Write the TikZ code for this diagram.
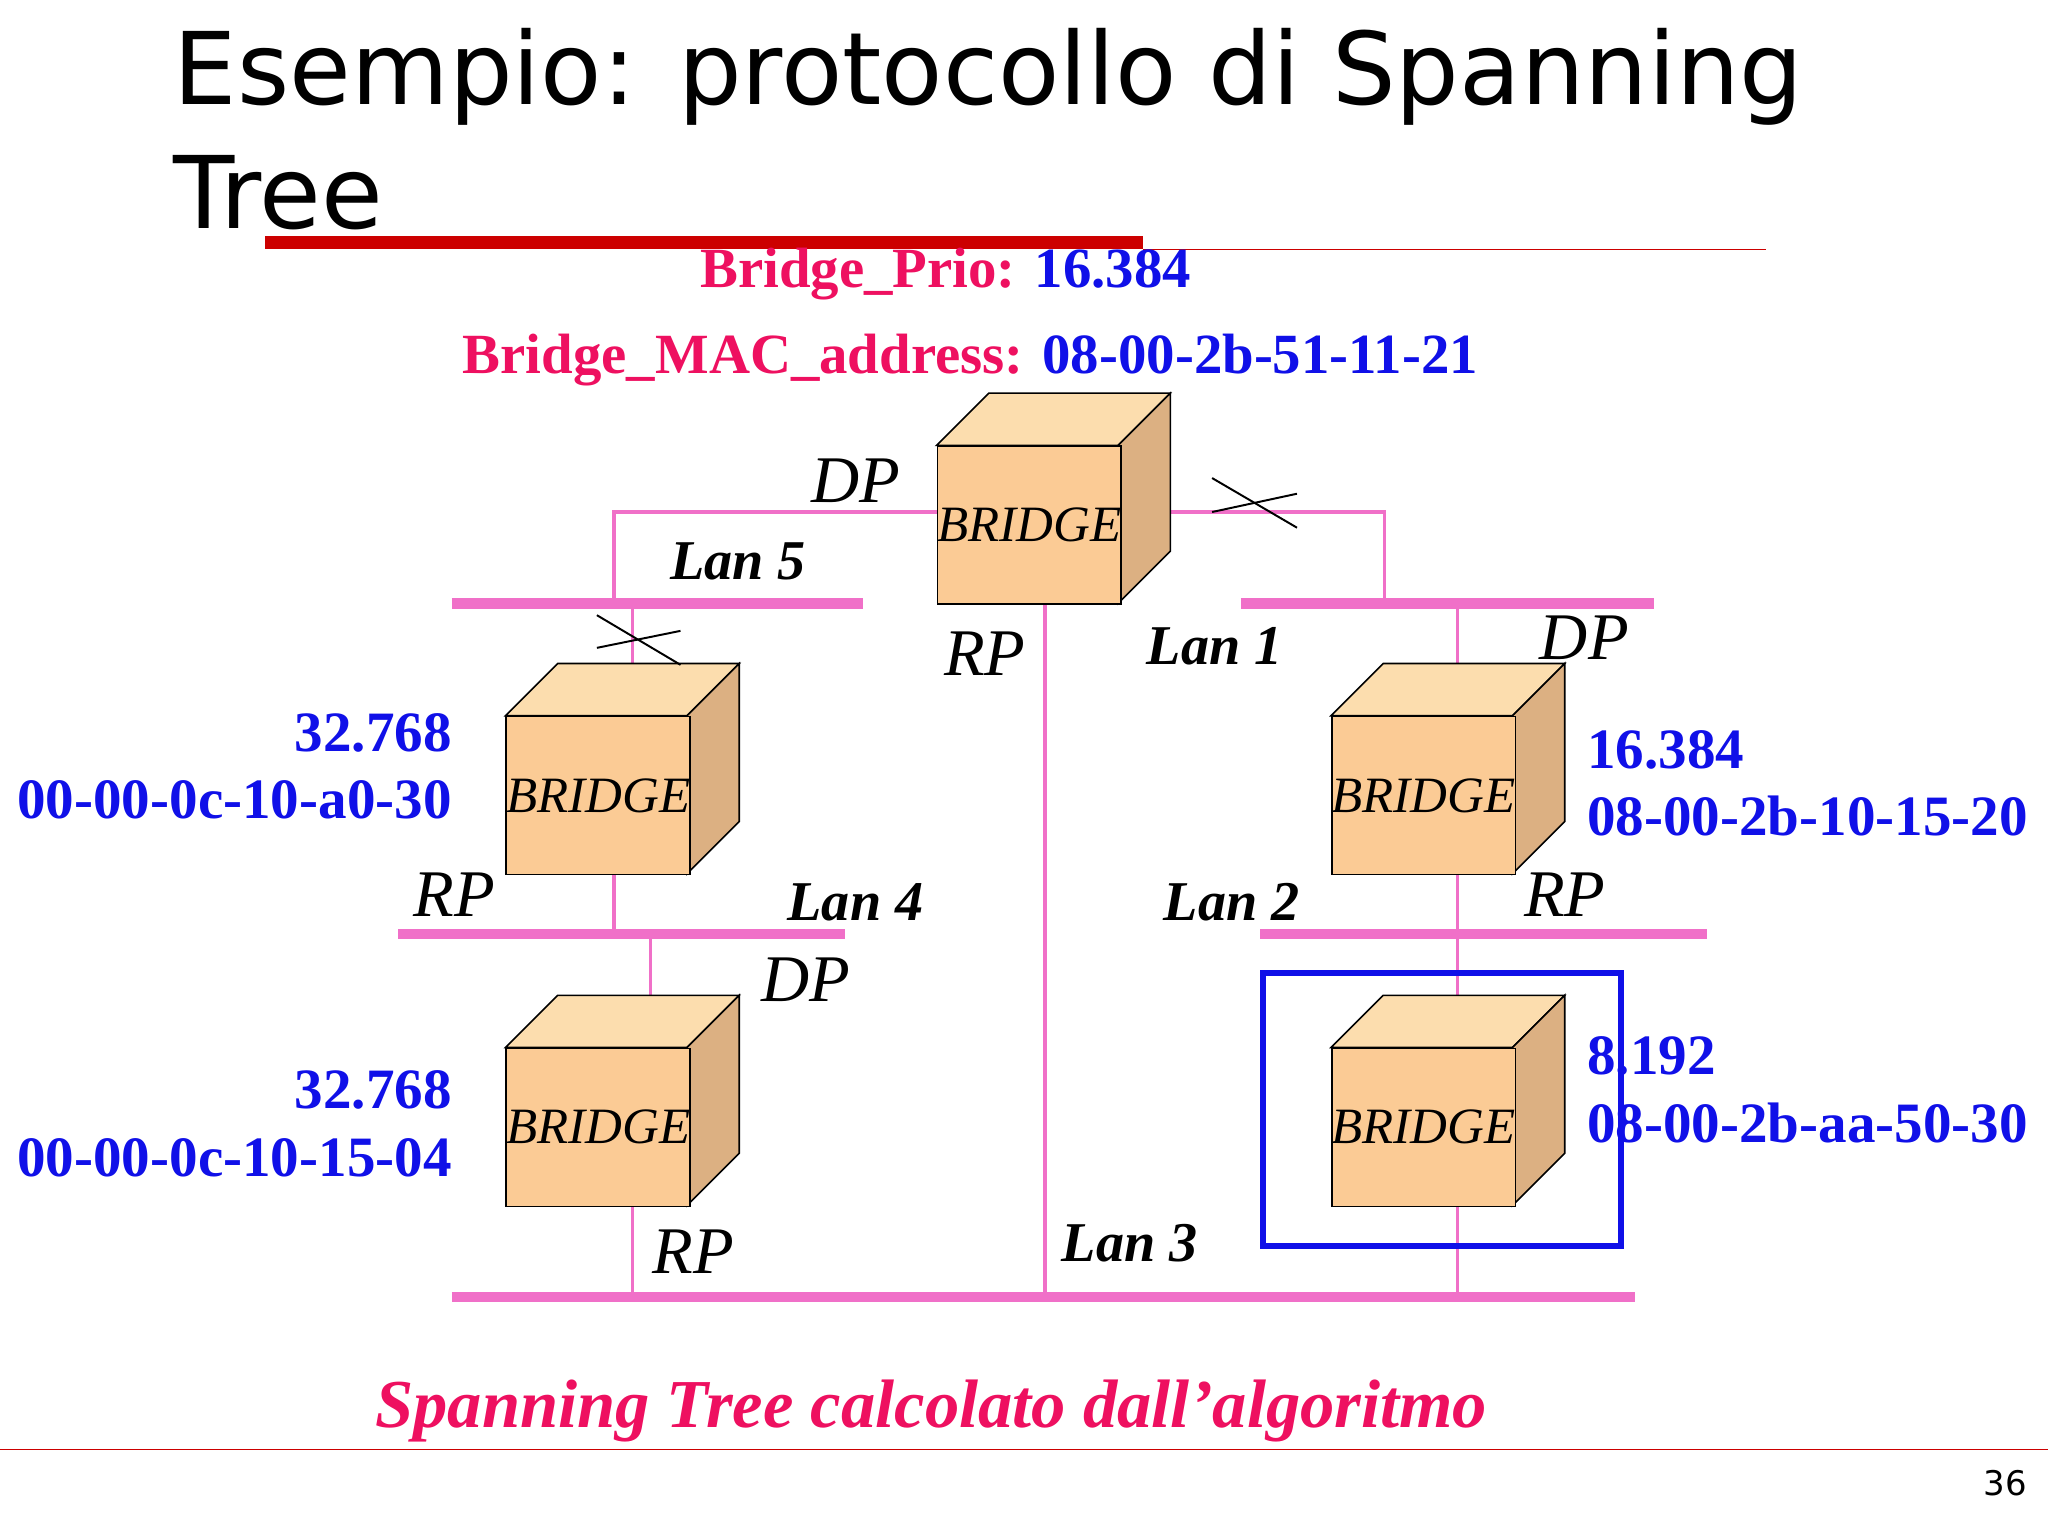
\documentclass[tikz,border=0pt]{standalone}
\usepackage{fontspec}
\setmainfont{Liberation Serif}
\newfontfamily\titlefont{DejaVu Sans}
\definecolor{lanpink}{HTML}{F070C8}
\definecolor{mag}{HTML}{EE1060}
\definecolor{bblue}{HTML}{1010E8}
\definecolor{frontc}{HTML}{FBCB95}
\definecolor{topc}{HTML}{FCDDAE}
\definecolor{sidec}{HTML}{DCB082}
\begin{document}
\begin{tikzpicture}[x=1pt,y=-1pt,
  lan/.style={lanpink,line width=8pt},
  wire/.style={lanpink,line width=2.5pt},
  xmark/.style={black,line width=1.5pt},
  brfront/.style={draw=black,fill=frontc,line width=1.2pt,minimum width=139pt,minimum height=121pt,inner sep=0pt,anchor=north west,font=\fontsize{39}{42}\selectfont\itshape},
  port/.style={font=\fontsize{51}{55}\selectfont\itshape,anchor=base,inner sep=0pt},
  lanlbl/.style={font=\fontsize{43}{46}\selectfont\bfseries\itshape,anchor=base,inner sep=0pt},
  addr/.style={font=\fontsize{43.7}{46}\selectfont\bfseries,text=bblue,inner sep=0pt}]
\useasboundingbox (0,0) rectangle (1568,1176);
\fill[white] (0,0) rectangle (1568,1176);
% title
\node[anchor=base west,inner sep=0pt,font=\fontsize{76.8}{80}\titlefont] (t1) at (133,80) {Esempio: protocollo di Spanning};
\node[anchor=base west,inner sep=0pt,font=\fontsize{76.8}{80}\titlefont] (t2) at (133,175) {Tree};
\fill[red!80!black] (203,181) rectangle (875,191);
\draw[red!80!black,line width=1.2pt] (875,191) -- (1352,191);
\draw[red!80!black,line width=0.8pt] (0,1110) -- (1568,1110);
\node[anchor=base east,inner sep=0pt,font=\fontsize{26}{28}\titlefont] (pg) at (1552,1145) {36};
\node[anchor=base,inner sep=0pt,font=\fontsize{43.5}{46}\selectfont\bfseries] (bp) at (724,220) {\textcolor{mag}{Bridge\_Prio:} \textcolor{bblue}{16.384}};
\node[anchor=base,inner sep=0pt,font=\fontsize{43.5}{46}\selectfont\bfseries] (bm) at (743,286) {\textcolor{mag}{Bridge\_MAC\_address:} \textcolor{bblue}{08-00-2b-51-11-21}};
\node[anchor=base,inner sep=0pt,font=\fontsize{52.5}{56}\selectfont\bfseries\itshape,text=mag] (cap) at (713,1093) {Spanning Tree calcolato dall’algoritmo};
% LANs
\coordinate (l5a) at (346,462); \coordinate (l5b) at (661,462);
\coordinate (l1a) at (950,462); \coordinate (l1b) at (1266,462);
\coordinate (l4a) at (305,715); \coordinate (l4b) at (647,715);
\coordinate (l2a) at (965,715); \coordinate (l2b) at (1307,715);
\coordinate (l3a) at (346,993); \coordinate (l3b) at (1252,993);
% wires
\coordinate (w5) at (470,462); \coordinate (w1) at (1060,462);
\draw[wire] (717,392) -| (w5);
\draw[wire] (896,392) -| (w1);
\draw[wire] (800,462) -- (800,993);
\draw[wire] (484,462) -- (484,508);
\draw[wire] (470,669) -- (470,715);
\draw[wire] (498,715) -- (498,762);
\draw[wire] (484,923) -- (484,993);
\draw[wire] (1116,462) -- (1116,508);
\draw[wire] (1116,669) -- (1116,715);
\draw[wire] (1116,715) -- (1116,762);
\draw[wire] (1116,923) -- (1116,993);
\draw[lan] (l5a) -- (l5b);
\draw[lan] (l1a) -- (l1b);
\draw[lan] (l4a) -- (l4b);
\draw[lan] (l2a) -- (l2b);
\draw[lan] (l3a) -- (l3b);
% bridges
\newcommand{\mybridge}[3]{%
  \fill[topc,draw=black,line width=1.2pt] (#1,#2) -- ++(40,-40) -- ++(139,0) -- ++(-40,40) -- cycle;
  \fill[sidec,draw=black,line width=1.2pt] (#1+139,#2) -- ++(40,-40) -- ++(0,121) -- ++(-40,40) -- cycle;
  \node[brfront] (#3) at (#1,#2) {BRIDGE};}
\mybridge{717}{341}{b0}
\mybridge{387}{548}{b1}
\mybridge{1019}{548}{b2}
\mybridge{387}{802}{b3}
\mybridge{1019}{802}{b4}
% crosses
\draw[xmark] (928,366) -- (993,404); \draw[xmark] (928,392) -- (993,378);
\draw[xmark] (457,471) -- (521,509); \draw[xmark] (457,496) -- (521,483);
% blue box
\draw[bblue,line width=5pt] (967,745) rectangle (1241,954);
% port labels
\node[port] (p1) at (655,385) {DP};
\node[port] (p2) at (754,517) {RP};
\node[port] (p3) at (1213,505) {DP};
\node[port] (p4) at (348,702) {RP};
\node[port] (p5) at (1198,702) {RP};
\node[port] (p6) at (617,767) {DP};
\node[port] (p7) at (531,975) {RP};
% lan labels
\node[lanlbl] (n5) at (565,444) {Lan 5};
\node[lanlbl] (n1) at (930,509) {Lan 1};
\node[lanlbl] (n4) at (655,705) {Lan 4};
\node[lanlbl] (n2) at (943,705) {Lan 2};
\node[lanlbl] (n3) at (865,966) {Lan 3};
% addresses
\node[addr,anchor=base east] (a1) at (346,575) {32.768};
\node[addr,anchor=base east] (a2) at (346,627) {00-00-0c-10-a0-30};
\node[addr,anchor=base west] (a3) at (1215,588) {16.384};
\node[addr,anchor=base west] (a4) at (1215,640) {08-00-2b-10-15-20};
\node[addr,anchor=base east] (a5) at (346,849) {32.768};
\node[addr,anchor=base east] (a6) at (346,901) {00-00-0c-10-15-04};
\node[addr,anchor=base west] (a7) at (1215,823) {8.192};
\node[addr,anchor=base west] (a8) at (1215,875) {08-00-2b-aa-50-30};
\end{tikzpicture}
\end{document}
